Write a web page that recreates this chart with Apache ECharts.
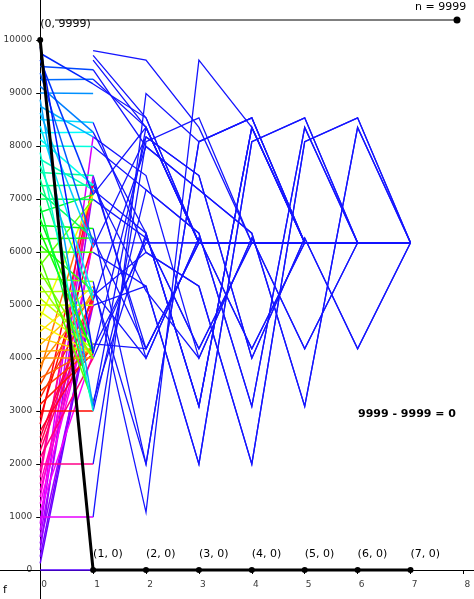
<!DOCTYPE html>
<html><head><meta charset="utf-8">
<script src="https://cdn.jsdelivr.net/npm/echarts@6/dist/echarts.min.js"></script>
<style>html,body{margin:0;padding:0;background:#fff}#c{width:474px;height:599px}</style>
</head><body><div id="c"></div>
<script>
// starting values n (x = 0) and their first Kaprekar result (x = 1)
const startN = [0,125,250,375,500,625,750,875,1000,1125,1250,1375,1500,1625,1750,1875,2000,2125,2250,2375,2500,2625,2750,2875,3000,3125,3250,3375,3500,3625,3750,3875,4000,4125,4250,4375,4500,4625,4750,4875,5000,5125,5250,5375,5500,5625,5750,5875,6000,6125,6250,6375,6500,6625,6750,6875,7000,7125,7250,7375,7500,7625,7750,7875,8000,8125,8250,8375,8500,8625,8750,8875,9000,9125,9250,9375,9500,9625,9750,9875];
const firstStep = [0,5085,5175,7173,4995,6264,7443,8172,999,4086,5085,6174,5085,5265,7353,7173,1998,3996,4995,5175,5175,4266,7263,6174,2997,4086,5085,4176,5265,4176,7173,5175,3996,4176,5175,4086,5355,4086,7083,4176,4995,4266,5265,3996,5445,3996,6993,3177,5994,5265,6264,4086,6444,4086,7083,3087,6993,6264,7263,4176,7443,5085,7173,2997,7992,7263,8262,5175,8442,6084,8172,3087,8991,8262,9261,6174,9441,7083,9171,4086];
// Kaprekar chains from x = 1 onward
const chains = [
[0,0,0,0,0,0,0],
[5085,7992,7173,6354,3087,8352,6174],
[5175,5994,5355,1998,8082,8532,6174],
[7173,6354,3087,8352,6174],
[4995,5355,1998,8082,8532,6174],
[6264,4176,6174],
[7443,3996,6264,4176,6174],
[8172,7443,3996,6264,4176,6174],
[999,8991,8082,8532,6174],
[4086,8172,7443,3996,6264,4176,6174],
[6174],
[5265,3996,6264,4176,6174],
[7353,4176,6174],
[1998,8082,8532,6174],
[3996,6264,4176,6174],
[4266,4176,6174],
[7263,5265,3996,6264,4176,6174],
[2997,7173,6354,3087,8352,6174],
[4176,6174],
[5355,1998,8082,8532,6174],
[7083,8352,6174],
[5445,1089,9621,8352,6174],
[6993,6264,4176,6174],
[3177,6354,3087,8352,6174],
[5994,5355,1998,8082,8532,6174],
[6444,1998,8082,8532,6174],
[3087,8352,6174],
[8262,6354,3087,8352,6174],
[8442,5994,5355,1998,8082,8532,6174],
[6084,8172,7443,3996,6264,4176,6174],
[9261,8352,6174],
[9441,7992,7173,6354,3087,8352,6174],
[9171,8532,6174],
[7992,7173,6354,3087,8352,6174],
[9801,9621,8352,6174],
[9711,8532,6174],
[9621,8352,6174]
];
const yTicks = [0,1000,2000,3000,4000,5000,6000,7000,8000,9000,10000];
const xTicks = [0,1,2,3,4,5,6,7,8];
const selN = 9999;
const selChain = [9999,0,0,0,0,0,0,0];

const fan = startN.map((n,i)=>{
  const h = ((240 - (10000-n)*0.034) % 360 + 360) % 360;
  return {coords:[[0,n],[1,firstStep[i]]], lineStyle:{color:`hsl(${h},100%,50%)`}};
});
const blue = chains.map(c=>{
  const p = c.slice(); while(p.length<7) p.push(6174);
  return {coords:p.map((v,k)=>[k+1,v])};
});
const selPts = selChain.map((v,k)=>[k,v]);
const lblFont = {fontSize:9,fontFamily:'DejaVu Sans',color:'#000'};

const chart = echarts.init(document.getElementById('c'));
chart.setOption({
  animation:false,
  grid:{left:0,right:0,top:0,bottom:0,outerBoundsMode:'none',containLabel:false},
  xAxis:{type:'value',min:-0.76,max:8.2,splitLine:{show:false},
    axisLine:{onZero:true,lineStyle:{color:'#000'}},
    axisTick:{customValues:xTicks,length:4,lineStyle:{color:'#000'}},
    axisLabel:{show:false}},
  yAxis:{type:'value',min:-547,max:10755,splitLine:{show:false},
    axisLine:{onZero:true,lineStyle:{color:'#000'}},
    axisTick:{customValues:yTicks,length:4,lineStyle:{color:'#000'}},
    axisLabel:{show:false}},
  series:[
    {type:'lines',coordinateSystem:'cartesian2d',polyline:true,data:blue,lineStyle:{color:'#1515ff',width:1.3,opacity:1},z:2},
    {type:'lines',coordinateSystem:'cartesian2d',data:fan,lineStyle:{width:1.5,opacity:1},z:3},
    {type:'line',data:selPts,symbol:'circle',symbolSize:6,itemStyle:{color:'#000'},lineStyle:{color:'#000',width:3},z:5,
      label:{show:true,position:'top',align:'left',offset:[0,-2],fontSize:11,fontFamily:'DejaVu Sans',color:'#000',
        formatter:p=>'('+p.data[0]+', '+p.data[1]+')'}},
    {type:'scatter',data:yTicks.map(v=>[0,v]),symbolSize:0,silent:true,z:6,
      label:{show:true,position:'left',distance:8,...lblFont,formatter:p=>String(p.data[1])}},
    {type:'scatter',data:xTicks.map(v=>[v,0]),symbolSize:0,silent:true,z:6,
      label:{show:true,position:'bottom',distance:10,offset:[4,0],...lblFont,formatter:p=>String(p.data[0])}}
  ],
  graphic:[
    {type:'line',shape:{x1:55,y1:20,x2:457,y2:20},style:{stroke:'#000',lineWidth:1}},
    {type:'circle',shape:{cx:457,cy:20,r:3.5},style:{fill:'#000'}},
    {type:'text',left:415,top:2,style:{text:'n = '+selN,fontSize:11,fontFamily:'DejaVu Sans',fill:'#000'}},
    {type:'text',left:358,top:409,style:{text:selN+' - '+selN+' = 0',fontSize:11,fontWeight:'bold',fontFamily:'DejaVu Sans',fill:'#000'}},
    {type:'text',left:3,top:585,style:{text:'f',fontSize:11,fontFamily:'DejaVu Sans',fill:'#000'}}
  ]
});
</script></body></html>
